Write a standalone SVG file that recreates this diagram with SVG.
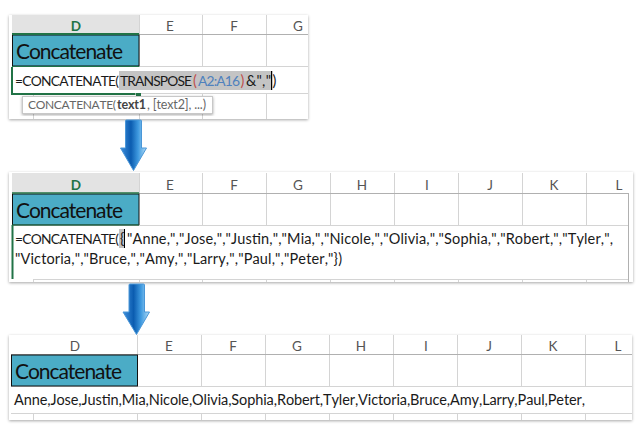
<svg xmlns="http://www.w3.org/2000/svg" width="644" height="430" viewBox="0 0 644 430">
<style>
text{font-family:Lato,"Open Sans","Liberation Sans",sans-serif;fill:#1a1a1a;font-kerning:none}
.h{font-size:13.500px;fill:#555;text-anchor:middle}
.d{fill:#217346;font-weight:bold}
.g{stroke:#d4d4d4;stroke-width:1;fill:none}
.r{stroke:#b0b0b0;stroke-width:1;fill:none}
.t{fill:#4bacc6;stroke:#111;stroke-width:1}
.c{font-size:21px;fill:#111}
.f{font-size:14.500px}
.k{font-size:13.800px}
.p{fill:#fff;filter:url(#s)}
.a{fill:url(#ag);stroke:#4a97d8;stroke-width:1;stroke-linejoin:round}
</style>
<defs>
<filter id="s" x="-5%" y="-10%" width="110%" height="120%"><feDropShadow dx="0" dy="1" stdDeviation="1.8" flood-color="#000" flood-opacity="0.35"/></filter>
<linearGradient id="ag" x1="0" x2="1" y1="0" y2="0"><stop offset="0" stop-color="#3f8fdc"/><stop offset=".4" stop-color="#0b5cb0"/><stop offset=".68" stop-color="#3f9ae0"/><stop offset="1" stop-color="#b5def7"/></linearGradient>
</defs>

<g id="panel1">
<rect class="p" x="9" y="15" width="299" height="104"/>
<rect x="12" y="15" width="127" height="19" fill="#e3e3e3"/>
<path class="g" d="M202.500 15V119M266.500 15V119M139.500 15V119M33.500 94V119M139 66.500H308M137 93.500H308"/>
<path class="r" d="M139 34.500H308"/>
<rect class="t" x="12.500" y="35" width="126.500" height="31"/>
<path d="M12 34H139" stroke="#217346" stroke-width="2"/>
<text class="h d" x="76" y="31">D</text>
<text class="h" x="170" y="31">E</text><text class="h" x="234" y="31">F</text><text class="h" x="298" y="31">G</text>
<text class="c" x="16" y="59" textLength="107" lengthAdjust="spacing">Concatenate</text>
<rect x="136" y="67" width="140" height="26" fill="#fff"/>
<path d="M12 67V94H135.500" fill="none" stroke="#217346" stroke-width="2"/>
<path d="M12 66.500H139" stroke="#217346" stroke-width="1"/>
<rect x="136" y="93" width="5" height="3.500" fill="#217346"/>
<rect x="119" y="71" width="154" height="19" fill="#c4c4c4"/>
<text class="k" x="15" y="85.500" textLength="104" lengthAdjust="spacing">=CONCATENATE(</text>
<text class="k" x="120" y="85.500" textLength="72" lengthAdjust="spacing">TRANSPOSE</text>
<text class="f" x="193" y="85.500" style="fill:#c0504d">(</text>
<text class="k" x="198" y="85.500" textLength="42" lengthAdjust="spacing" style="fill:#4f81bd">A2:A16</text>
<text class="f" x="240.500" y="85.500" style="fill:#c0504d">)</text>
<text class="f" x="246" y="85.500" textLength="25" lengthAdjust="spacing">&amp;","</text>
<text class="f" x="272.500" y="85.500">)</text>
<path d="M271.500 71V90" stroke="#000" stroke-width="1"/>
<rect x="22.500" y="96.500" width="190" height="17" fill="#fff" stroke="#c8c8c8" filter="url(#s)"/>
<text x="28" y="109" font-size="12" textLength="88" lengthAdjust="spacing" style="fill:#666">CONCATENATE(</text>
<text x="117" y="109" font-size="12.500" textLength="29" lengthAdjust="spacing" font-weight="bold" style="fill:#444">text1</text>
<text x="147" y="109" font-size="12.500" textLength="59" lengthAdjust="spacing" style="fill:#666">, [text2], ...)</text>
</g>

<g id="panel2">
<rect class="p" x="9" y="172" width="624" height="110"/>
<rect x="12" y="173" width="127" height="20" fill="#e3e3e3"/>
<path class="g" d="M139.500 173V193M202.500 173V225M266.500 173V225M330.500 173V225M394.500 173V225M458.500 173V225M522.500 173V225M586.500 173V225M33.500 279V282M139.500 279V282M202.500 279V282M266.500 279V282M330.500 279V282M394.500 279V282M458.500 279V282M522.500 279V282M586.500 279V282M33 279.500H628"/>
<path class="r" d="M139 193.500H628M628.500 193V282"/>
<rect class="t" x="12.500" y="194" width="126.500" height="31"/>
<path d="M12 193H139" stroke="#217346" stroke-width="1.500"/>
<path class="g" d="M139 225.500H628"/>
<path d="M12.500 225V279" stroke="#217346" stroke-width="2"/>
<path d="M12 225H139" stroke="#217346" stroke-width="1"/>
<text class="h d" x="76" y="190">D</text>
<text class="h" x="170" y="190">E</text><text class="h" x="234" y="190">F</text><text class="h" x="298" y="190">G</text><text class="h" x="362" y="190">H</text><text class="h" x="427" y="190">I</text><text class="h" x="490" y="190">J</text><text class="h" x="554" y="190">K</text><text class="h" x="619" y="190">L</text>
<text class="c" x="16" y="218" textLength="107" lengthAdjust="spacing">Concatenate</text>
<rect x="119" y="229" width="5" height="19" fill="#c4c4c4"/>
<text class="k" x="15" y="244" textLength="104" lengthAdjust="spacing">=CONCATENATE(</text>
<text class="f" x="120" y="244">{</text>
<text class="f" x="127" y="244" textLength="486" lengthAdjust="spacing">"Anne,","Jose,","Justin,","Mia,","Nicole,","Olivia,","Sophia,","Robert,","Tyler,",</text>
<text class="f" x="15" y="264" textLength="327" lengthAdjust="spacing">"Victoria,","Bruce,","Amy,","Larry,","Paul,","Peter,"})</text>
<path d="M124.500 229V248" stroke="#000"/>
</g>

<g id="panel3">
<rect class="p" x="9" y="335" width="623" height="85"/>
<path class="g" d="M137.500 335V413M201.500 335V420M265.500 335V420M329.500 335V420M393.500 335V420M457.500 335V420M521.500 335V420M585.500 335V420M137.500 413V420M33.500 413V420M137 386.500H632M11 413.500H632M11 386.500H137"/>
<path class="r" d="M11 354.500H632"/>
<rect x="12" y="387" width="620" height="26" fill="#fff"/>
<rect class="t" x="11.500" y="355" width="126" height="31"/>
<text class="h" x="75" y="351">D</text>
<text class="h" x="169" y="351">E</text><text class="h" x="233" y="351">F</text><text class="h" x="297" y="351">G</text><text class="h" x="361" y="351">H</text><text class="h" x="426" y="351">I</text><text class="h" x="489" y="351">J</text><text class="h" x="553" y="351">K</text><text class="h" x="618" y="351">L</text>
<text class="c" x="15" y="379" textLength="107" lengthAdjust="spacing">Concatenate</text>
<text class="f" x="14" y="405" textLength="571" lengthAdjust="spacing">Anne,Jose,Justin,Mia,Nicole,Olivia,Sophia,Robert,Tyler,Victoria,Bruce,Amy,Larry,Paul,Peter,</text>
</g>

<g id="connectors">
<path class="a" d="M125.500 121Q125.500 120 126.500 120H140.500Q141.500 120 141.500 121V148H146.500L133.500 170.500L120.500 148H125.500Z"/>
<path class="a" d="M129 285Q129 284 130 284H143.500Q144.500 284 144.500 285V312H149.500L136.500 334.500L123 312H129Z"/>
</g>
</svg>
